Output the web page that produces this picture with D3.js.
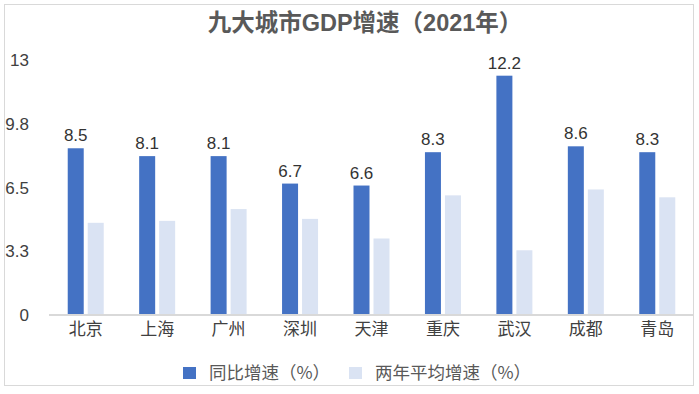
<!DOCTYPE html>
<html>
<head>
<meta charset="utf-8">
<script src="https://cdn.jsdelivr.net/npm/d3@7"></script>
<style>
  body { margin: 0; background: #fff; }
  svg text { font-family: "Liberation Sans", Arial, "Noto Sans CJK SC", sans-serif; }
</style>
</head>
<body>
<div class="chart"></div>
<script>
// city names, yoy growth and two-year average growth
const cities = ["北京", "上海", "广州", "深圳", "天津", "重庆", "武汉", "成都", "青岛"];
const yoy = [8.5, 8.1, 8.1, 6.7, 6.6, 8.3, 12.2, 8.6, 8.3];
const avg2y = [4.7, 4.8, 5.4, 4.9, 3.9, 6.1, 3.3, 6.4, 6.0];
const yTicks = [0, 3.25, 6.5, 9.75, 13];
const yTickLabels = ["0", "3.3", "6.5", "9.8", "13"];
const seriesNames = ["同比增速（%）", "两年平均增速（%）"];
const colors = ["#4472C4", "#DAE3F3"];

const W = 699, H = 394;
const svg = d3.select(".chart").append("svg")
    .attr("width", W)
    .attr("height", H);

// outer frame
svg.append("rect")
    .attr("x", 4.5).attr("y", 4.5)
    .attr("width", 689).attr("height", 381)
    .attr("fill", "none")
    .attr("stroke", "#d9d9d9");

svg.append("text")
    .attr("x", 365)
    .attr("y", 31)
    .attr("text-anchor", "middle")
    .attr("font-size", "23.5px")
    .attr("font-weight", "bold")
    .attr("fill", "#595959")
    .text("九大城市GDP增速（2021年）");

var x = d3.scaleBand()
    .domain(cities)
    .range([50, 693]);

var y = d3.scaleLinear()
    .domain([0, 13])
    .range([315, 60]);

const barW = 16, gap = 4;

// y tick labels (no axis line)
svg.append("g").selectAll("text")
    .data(yTicks)
    .enter().append("text")
    .attr("x", 29)
    .attr("y", function (d) { return y(d); })
    .attr("dy", "0.36em")
    .attr("text-anchor", "end")
    .attr("font-size", "17px")
    .attr("fill", "#404040")
    .text(function (d, i) { return yTickLabels[i]; });

// bars
const series = [yoy, avg2y];
series.forEach((vals, s) => {
    svg.append("g").selectAll("rect")
        .data(cities)
        .enter().append("rect")
        .attr("x", function (d) {
            return x(d) + x.bandwidth() / 2 - barW - gap / 2 + s * (barW + gap);
        })
        .attr("width", barW)
        .attr("y", function (d, i) { return y(vals[i]); })
        .attr("height", function (d, i) { return y(0) - y(vals[i]); })
        .attr("fill", colors[s]);
});

// value labels on the dark bars
svg.append("g").selectAll("text")
    .data(cities)
    .enter().append("text")
    .attr("x", function (d) { return x(d) + x.bandwidth() / 2 - barW / 2 - gap / 2; })
    .attr("y", function (d, i) { return y(yoy[i]) - 7; })
    .attr("text-anchor", "middle")
    .attr("font-size", "17px")
    .attr("fill", "#333")
    .text(function (d, i) { return yoy[i].toFixed(1); });

// x axis
var xAxis = svg.append("g")
    .attr("transform", "translate(0,315)")
    .call(d3.axisBottom(x).tickSize(0).tickPadding(8));
xAxis.select(".domain")
    .attr("d", "M49,0H694")
    .attr("stroke", "#d9d9d9")
    .attr("stroke-width", 2);
xAxis.selectAll("text")
    .attr("font-size", "17px")
    .attr("fill", "#404040")
    .style("font-family", "'Noto Sans CJK SC', sans-serif");

// legend
const legendX = [183, 349];
seriesNames.forEach((name, i) => {
    let g = svg.append("g").attr("transform", "translate(" + legendX[i] + ",367)");
    g.append("rect")
        .attr("width", 13).attr("height", 12)
        .attr("fill", colors[i]);
    g.append("text")
        .attr("x", 26).attr("y", 6)
        .attr("dy", "0.36em")
        .attr("font-size", "17.5px")
        .attr("fill", "#595959")
        .style("font-family", "'Noto Sans CJK SC', sans-serif")
        .text(name);
});
</script>
</body>
</html>
